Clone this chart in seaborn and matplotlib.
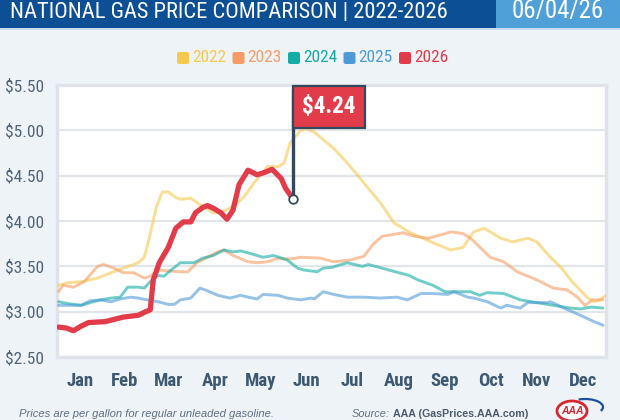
import numpy as np
import pandas as pd
import matplotlib
matplotlib.use("Agg")
import matplotlib.pyplot as plt
from matplotlib.patches import Rectangle, FancyBboxPatch, Ellipse, Arc
import seaborn as sns

# values: day of year -> average price
days_2022 = [1, 7, 16, 27, 36, 44, 54, 58, 59, 61, 66, 70, 74, 79, 82, 89, 95, 104, 111, 117, 124,
             131, 140, 147, 151, 155, 162, 166, 171, 184, 193, 204, 215, 224, 235, 250, 262, 270,
             277, 284, 295, 303, 313, 319, 328, 335, 343, 353, 357, 361, 365]
price_2022 = [3.29, 3.32, 3.33, 3.37, 3.43, 3.48, 3.54, 3.60, 3.66, 3.79, 4.15, 4.32, 4.32, 4.26,
              4.24, 4.25, 4.18, 4.09, 4.11, 4.16, 4.26, 4.42, 4.60, 4.60, 4.64, 4.86, 5.00, 5.02,
              4.98, 4.80, 4.64, 4.42, 4.20, 3.98, 3.87, 3.76, 3.68, 3.71, 3.88, 3.92, 3.81, 3.77,
              3.81, 3.77, 3.60, 3.49, 3.32, 3.15, 3.11, 3.13, 3.18]

days_2023 = [1, 4, 11, 18, 27, 31, 38, 44, 51, 58, 62, 67, 74, 82, 87, 93, 100, 107, 111, 117, 127,
             133, 140, 147, 155, 162, 175, 184, 195, 204, 210, 216, 230, 238, 247, 262, 270, 275,
             288, 297, 306, 319, 330, 339, 346, 351, 356, 363]
price_2023 = [3.22, 3.29, 3.27, 3.33, 3.50, 3.52, 3.48, 3.43, 3.43, 3.37, 3.39, 3.46, 3.45, 3.44,
              3.44, 3.54, 3.60, 3.66, 3.68, 3.62, 3.55, 3.54, 3.55, 3.59, 3.58, 3.60, 3.59, 3.55,
              3.57, 3.61, 3.74, 3.83, 3.87, 3.83, 3.81, 3.88, 3.86, 3.81, 3.60, 3.55, 3.44, 3.35,
              3.26, 3.24, 3.16, 3.07, 3.13, 3.13]

days_2024 = [1, 7, 16, 22, 29, 36, 42, 47, 54, 58, 62, 67, 71, 76, 82, 91, 97, 104, 111, 117, 122,
             129, 137, 144, 153, 160, 164, 173, 177, 183, 193, 203, 207, 216, 225, 234, 240, 250,
             258, 267, 275, 281, 286, 297, 308, 319, 330, 341, 348, 355, 363]
price_2024 = [3.11, 3.09, 3.07, 3.10, 3.13, 3.15, 3.16, 3.27, 3.27, 3.26, 3.33, 3.40, 3.39, 3.46,
              3.54, 3.54, 3.59, 3.62, 3.68, 3.66, 3.67, 3.64, 3.60, 3.62, 3.57, 3.48, 3.46, 3.44,
              3.48, 3.49, 3.54, 3.50, 3.52, 3.48, 3.44, 3.40, 3.35, 3.29, 3.22, 3.22, 3.22, 3.18,
              3.21, 3.20, 3.13, 3.10, 3.07, 3.04, 3.03, 3.05, 3.04]

days_2025 = [1, 16, 22, 29, 36, 42, 49, 54, 60, 67, 74, 78, 82, 89, 95, 100, 107, 115, 122, 127,
             133, 137, 147, 153, 162, 169, 171, 177, 184, 193, 204, 215, 226, 233, 242, 250, 260,
             264, 273, 277, 286, 295, 299, 308, 313, 326, 328, 337, 348, 357, 363]
price_2025 = [3.07, 3.07, 3.12, 3.13, 3.11, 3.14, 3.16, 3.15, 3.13, 3.11, 3.08, 3.08, 3.13, 3.15,
              3.26, 3.23, 3.18, 3.15, 3.18, 3.16, 3.14, 3.19, 3.18, 3.15, 3.13, 3.15, 3.14, 3.22,
              3.19, 3.16, 3.16, 3.15, 3.16, 3.13, 3.20, 3.20, 3.19, 3.22, 3.16, 3.15, 3.11, 3.04,
              3.07, 3.04, 3.10, 3.10, 3.11, 3.04, 2.96, 2.89, 2.85]

days_2026 = [1, 6, 11, 16, 21, 32, 44, 54, 59, 62, 64, 68, 74, 79, 84, 89, 92, 97, 100, 104, 109,
             113, 117, 121, 127, 133, 137, 143, 149, 152, 157]
price_2026 = [2.83, 2.82, 2.79, 2.84, 2.88, 2.89, 2.94, 2.96, 3.00, 3.02, 3.35, 3.54, 3.71, 3.92,
              3.99, 3.99, 4.09, 4.15, 4.17, 4.14, 4.09, 4.02, 4.12, 4.40, 4.56, 4.51, 4.53, 4.57,
              4.47, 4.36, 4.24]

years = ["2022", "2023", "2024", "2025", "2026"]
colors = ["#f5c84f", "#f79d63", "#13ada3", "#4e9ad6", "#e23b4a"]
months = ["Jan", "Feb", "Mar", "Apr", "May", "Jun", "Jul", "Aug", "Sep", "Oct", "Nov", "Dec"]
month_starts = [0, 31, 59, 90, 120, 151, 181, 212, 243, 273, 304, 334, 365]
yticks = [2.5, 3.0, 3.5, 4.0, 4.5, 5.0, 5.5]
last_label = "$4.24"
date_label = "06/04/26"

series = {
    "2022": (days_2022, price_2022),
    "2023": (days_2023, price_2023),
    "2024": (days_2024, price_2024),
    "2025": (days_2025, price_2025),
    "2026": (days_2026, price_2026),
}
frames = [pd.DataFrame({"day": d, "price": p, "year": y}) for y, (d, p) in series.items()]
df = pd.concat(frames, ignore_index=True)

sns.set_theme(style="white")
narrow = ["Roboto Condensed", "Liberation Sans Narrow", "Roboto", "DejaVu Sans"]
plt.rcParams["font.family"] = narrow

bg = "#eef3f8"
W, H = 620, 420
fig = plt.figure(figsize=(6.2, 4.2), dpi=100, facecolor=bg)
renderer = fig.canvas.get_renderer()


def fit(t, width_px):
    # shrink/grow font so the text takes the width it has in the reference
    bb = t.get_window_extent(renderer)
    t.set_fontsize(t.get_fontsize() * width_px / bb.width)
    return t


def fx(px):
    return px / W


def fy(py):
    return 1 - py / H


# header band
fig.patches.append(Rectangle((0, fy(28)), 1, 28 / H, transform=fig.transFigure,
                             facecolor="#0d4f94", edgecolor="none", zorder=0))
fig.patches.append(Rectangle((fx(496), fy(28)), 124 / W, 28 / H, transform=fig.transFigure,
                             facecolor="#4f9fd8", edgecolor="none", zorder=1))
fig.patches.append(Rectangle((0, fy(30)), 1, 2 / H, transform=fig.transFigure,
                             facecolor="#c9dcee", edgecolor="none", zorder=1))
fit(fig.text(fx(10), fy(18), "NATIONAL GAS PRICE COMPARISON | 2022-2026", color="white",
             fontsize=20, va="baseline", ha="left", zorder=2), 438)
fit(fig.text(fx(558), fy(18), date_label, color="white", fontsize=20, va="baseline",
             ha="center", zorder=2), 92)

ax = fig.add_axes([fx(57), fy(357), 549 / W, 272 / H])
ax.set_facecolor("white")

for y, c in zip(years, colors):
    sub = df[df["year"] == y]
    if y == "2026":
        sns.lineplot(data=sub, x="day", y="price", color=c, lw=3.8, ax=ax, zorder=5)
    else:
        sns.lineplot(data=sub, x="day", y="price", color=c, lw=2.1, alpha=0.6, ax=ax, zorder=3)

ax.set_xlim(0, 365)
ax.set_ylim(2.5, 5.5)
ax.set_yticks(yticks)
ax.set_yticklabels([f"${v:.2f}" for v in yticks])
ax.yaxis.grid(True, color="#e2e5ea", lw=1.6)
ax.set_axisbelow(True)
for s in ax.spines.values():
    s.set_color("#dfe3e9")
    s.set_linewidth(2.4)

centers = [(a + b) / 2 for a, b in zip(month_starts[:-1], month_starts[1:])]
ax.set_xticks(centers)
ax.set_xticklabels(months)
ax.set_xticks(month_starts[1:-1], minor=True)
ax.tick_params(axis="x", which="major", length=0, pad=11, labelsize=13.5, labelcolor="#3d5871")
ax.tick_params(axis="x", which="minor", length=7, width=1.6, color="#bac4ce", direction="out", pad=0)
ax.tick_params(axis="y", length=0, pad=9, labelsize=12.5, labelcolor="#4d6479")
for t in ax.get_xticklabels():
    t.set_fontweight("bold")
ax.set_xlabel("")
ax.set_ylabel("")

# flag for the latest value
end_day, end_price = days_2026[-1], price_2026[-1]
ax.plot([end_day, end_day], [end_price, 5.46], color="#34495e", lw=2.4, zorder=6, solid_capstyle="butt")
ax.scatter([end_day], [end_price], s=38, facecolor="white", edgecolor="#34495e", lw=1.3, zorder=7)
flag = ax.annotate(last_label, xy=(end_day, 5.26), xytext=(0, 0), textcoords="offset points",
                   color="white", fontsize=17, fontweight="bold", ha="left", va="center", zorder=8)
fit(flag, 54)
pad = 0.4
fs = flag.get_fontsize()
flag.set_bbox(dict(boxstyle=f"square,pad={pad}", facecolor="#e23b4a", edgecolor="#34495e", lw=1.6))
flag.xyann = (pad * fs, 0)

# legend
for i, (y, c) in enumerate(zip(years, colors)):
    x0 = 177 + i * 55.5
    fig.patches.append(FancyBboxPatch((fx(x0), fy(64)), 12 / W, 12 / H,
                                      boxstyle="round,pad=0,rounding_size=0.004",
                                      transform=fig.transFigure, facecolor=c, edgecolor="none"))
    fig.text(fx(x0 + 15), fy(58), y, color=c, fontsize=12.5, va="center", ha="left")

# footer
fit(fig.text(fx(19), fy(414), "Prices are per gallon for regular unleaded gasoline.",
             color="#5d7083", fontsize=9, style="italic", family="Liberation Sans", va="center"), 256)
src = fig.text(fx(352), fy(414), "Source:", color="#5d7083", fontsize=9, style="italic",
               family="Liberation Sans", va="center")
fit(src, 38)
fit(fig.text(fx(393), fy(414), "AAA (GasPrices.AAA.com)", color="#4a5a6a", fontsize=9,
             fontweight="bold", family="Liberation Sans", va="center"), 135)
fig.patches.append(Ellipse((fx(572), fy(411)), 30 / W, 20 / H, transform=fig.transFigure,
                           facecolor="white", edgecolor="#d7262e", lw=2))
fig.patches.append(Arc((fx(585), fy(407)), 36 / W, 16 / H, theta1=-20, theta2=120,
                       transform=fig.transFigure, color="#1d4f9c", lw=1.6))
fig.text(fx(572), fy(411), "AAA", color="#d7262e", fontsize=7.5, fontweight="bold",
         style="italic", family="Liberation Sans", ha="center", va="center")

fig.savefig("out.png", dpi=100, facecolor=bg)
